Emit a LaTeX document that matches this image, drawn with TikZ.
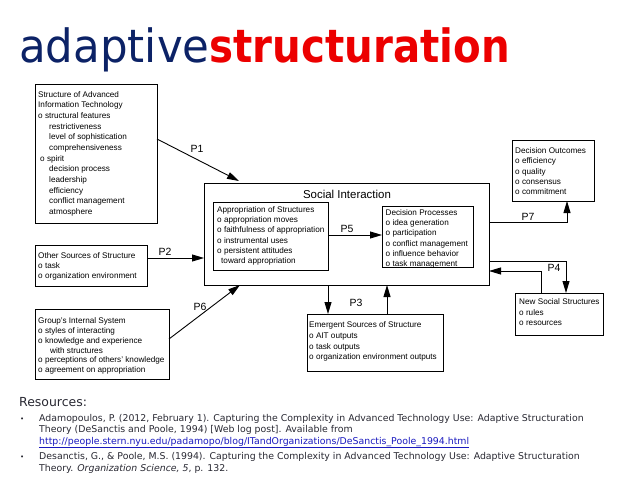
\documentclass[tikz,border=0pt]{standalone}
\usepackage{fontspec}
\setmainfont{Liberation Sans}
\newfontfamily\tahoma[FakeStretch=0.88]{DejaVu Sans}
\newfontfamily\tahomaR[FakeStretch=0.95]{DejaVu Sans}
\newfontfamily\refsans{DejaVu Sans}
\usetikzlibrary{arrows.meta,calc}
\definecolor{navy}{RGB}{12,34,102}
\definecolor{titlered}{RGB}{236,0,0}
\definecolor{linkblue}{RGB}{25,25,190}
\definecolor{reftext}{RGB}{40,40,50}
\begin{document}
\begin{tikzpicture}[x=1bp,y=-1bp,
  box/.style={draw, line width=0.9bp, rectangle, inner sep=0pt, outer sep=0pt, anchor=north west},
  txt/.style={anchor=north west, inner sep=0pt, align=left},
  arr/.style={line width=0.9bp, -{Triangle[length=12bp,width=7bp]}},
  lab/.style={font=\fontsize{10.5}{12}\selectfont, inner sep=0pt},
  refl/.style={anchor=base west, inner sep=0pt, text=reftext, font=\refsans\fontsize{9.4}{12}\selectfont}]
\useasboundingbox (0,0) rectangle (638,479);

% title
\node[anchor=base west, inner sep=0pt, font=\fontsize{46}{50}\selectfont] (title) at (19,63)
  {\textcolor{navy}{\tahomaR adaptive}\textcolor{titlered}{\tahoma\bfseries structuration}};

% boxes
\node[box, minimum width=122bp, minimum height=139bp] (ait) at (35,84) {};
\node[box, minimum width=112bp, minimum height=41bp] (other) at (35,245) {};
\node[box, minimum width=134bp, minimum height=70bp] (group) at (35,309) {};
\node[box, minimum width=285bp, minimum height=102bp] (social) at (204,183) {};
\node[box, minimum width=115bp, minimum height=68bp] (approp) at (213,202) {};
\node[box, minimum width=91bp, minimum height=61bp] (decproc) at (382,206) {};
\node[box, minimum width=82bp, minimum height=61bp] (outcomes) at (512,140) {};
\node[box, minimum width=88bp, minimum height=42bp] (newsoc) at (515,293) {};
\node[box, minimum width=136bp, minimum height=57bp] (emergent) at (307,314) {};

% texts
\node[txt, font=\fontsize{8.2}{10.7}\selectfont] (aitT) at ($(ait.north west)+(3,7)$)
  {Structure of Advanced\\Information Technology\\o structural features\\
   \hspace*{11bp}restrictiveness\\\hspace*{11bp}level of sophistication\\\hspace*{11bp}comprehensiveness\\
   \hspace*{2bp}o spirit\\\hspace*{11bp}decision process\\\hspace*{11bp}leadership\\
   \hspace*{11bp}efficiency\\\hspace*{11bp}conflict management\\\hspace*{11bp}atmosphere};
\node[txt, font=\fontsize{8.2}{10.2}\selectfont] (otherT) at ($(other.north west)+(3,7)$)
  {Other Sources of Structure\\o task\\o organization environment};
\node[txt, font=\fontsize{8.2}{10}\selectfont] (groupT) at ($(group.north west)+(3,8)$)
  {Group's Internal System\\o styles of interacting\\o knowledge and experience\\
   \hspace*{12bp}with structures\\o perceptions of others' knowledge\\o agreement on appropriation};
\node[inner sep=0pt, font=\fontsize{11.5}{13}\selectfont] (socialT) at (347,194) {Social Interaction};
\node[txt, font=\fontsize{8.2}{10.4}\selectfont] (appropT) at ($(approp.north west)+(4,4)$)
  {Appropriation of Structures\\o appropriation moves\\o faithfulness of appropriation\\
   o instrumental uses\\o persistent attitudes\\\hspace*{4bp}toward appropriation};
\node[txt, font=\fontsize{8.2}{10.1}\selectfont] (decprocT) at ($(decproc.north west)+(3.5,3.7)$)
  {Decision Processes\\o idea generation\\o participation\\o conflict management\\
   o influence behavior\\o task management};
\node[txt, font=\fontsize{8.2}{10.5}\selectfont] (outcomesT) at ($(outcomes.north west)+(3,7)$)
  {Decision Outcomes\\o efficiency\\o quality\\o consensus\\o commitment};
\node[txt, font=\fontsize{8.2}{10.5}\selectfont] (newsocT) at ($(newsoc.north west)+(4,5.7)$)
  {New Social Structures\\o rules\\o resources};
\node[txt, font=\fontsize{8.2}{11}\selectfont] (emergentT) at ($(emergent.north west)+(2,7)$)
  {Emergent Sources of Structure\\o AIT outputs\\o task outputs\\o organization environment outputs};

% connectors
\draw[arr] ($(ait.north east)+(0,55)$) -- ($(social.north west)+(35,-2)$);
\draw[arr] ($(other.north east)+(0,13)$) -- ($(social.north west)+(0,75)$);
\draw[arr] ($(group.north east)+(0,30)$) -- ($(social.south west)+(36,0)$);
\draw[arr] ($(approp.north east)+(0,33)$) -- ($(decproc.north west)+(0,29)$);
\draw[arr] ($(social.north east)+(0,39)$) -| ($(outcomes.south west)+(55,0)$);
\draw[arr] ($(social.north east)+(0,78)$) -| ($(newsoc.north west)+(51,0)$);
\draw[arr] ($(newsoc.north west)+(26,0)$) |- ($(social.north east)+(0,88)$);
\draw[arr] ($(social.south west)+(124,0)$) -- ($(emergent.north west)+(21,0)$);
\draw[arr] ($(emergent.north west)+(80,0)$) -- ($(social.south west)+(183,0)$);

% labels
\node[lab] (p1) at (197,149) {P1};
\node[lab] (p2) at (165,252) {P2};
\node[lab] (p6) at (200,307) {P6};
\node[lab] (p5) at (347,229) {P5};
\node[lab] (p7) at (528,217) {P7};
\node[lab] (p4) at (554,268) {P4};
\node[lab] (p3) at (356,303) {P3};

% resources
\node[refl, font=\refsans\fontsize{12.5}{14}\selectfont] (res) at (19,406) {Resources:};
\node[refl] (b1) at (20,421) {\fontsize{7}{8}\selectfont •};
\node[refl] (r1) at (39,421) {Adamopoulos, P. (2012, February 1). Capturing the Complexity in Advanced Technology Use: Adaptive Structuration};
\node[refl] (r2) at (39,432) {Theory (DeSanctis and Poole, 1994) [Web log post]. Available from};
\node[refl, text=linkblue] (r3) at (39,444) {\underline{http://people.stern.nyu.edu/padamopo/blog/ITandOrganizations/DeSanctis\_Poole\_1994.html}};
\node[refl] (b2) at (20,459) {\fontsize{7}{8}\selectfont •};
\node[refl] (r4) at (39,459) {Desanctis, G., \& Poole, M.S. (1994). Capturing the Complexity in Advanced Technology Use: Adaptive Structuration};
\node[refl] (r5) at (39,471) {Theory. \textit{Organization Science, 5}, p. 132.};
\end{tikzpicture}
\end{document}
